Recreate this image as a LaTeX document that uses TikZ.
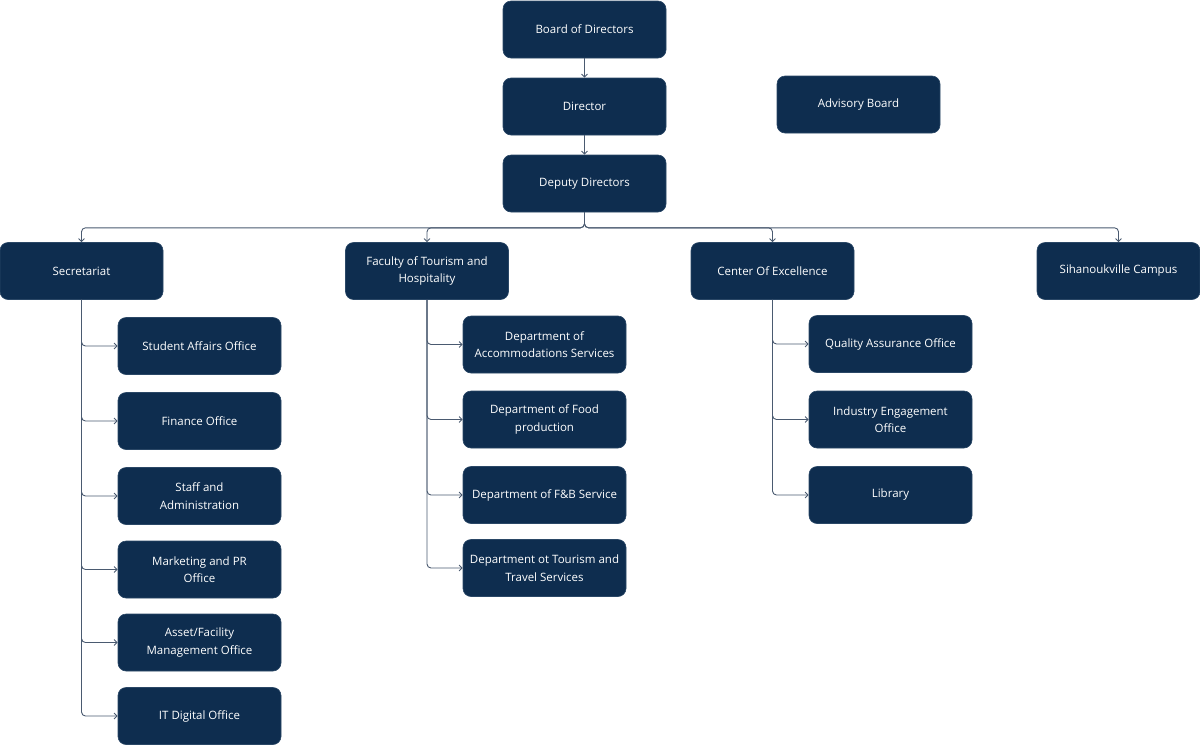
\documentclass[tikz,border=0pt]{standalone}
\usepackage{fontspec}
\setmainfont{Open Sans}
\usetikzlibrary{arrows.meta}
\definecolor{navy}{HTML}{0E2D4F}
\definecolor{navyedge}{HTML}{2A4766}
\definecolor{conn}{HTML}{4A5A70}
\tikzset{
  box/.style={draw=navyedge, line width=0.6pt, fill=navy, rounded corners=8pt,
    minimum width=163pt, minimum height=57pt, inner sep=2pt, align=center,
    text=white, font=\fontsize{11.5}{17.5}\selectfont},
  conn/.style={draw=conn, line width=0.9pt, rounded corners=4pt,
    -{Straight Barb[length=3pt,width=6pt]}},
}
\begin{document}
\begin{tikzpicture}[x=1pt,y=-1pt]
\useasboundingbox (0,0) rectangle (1200,745);
% top chain
\node[box] (bod) at (584.5,29.5) {Board of Directors};
\node[box] (dir) at (584.5,106.5) {Director};
\node[box] (dep) at (584.5,183.5) {Deputy Directors};
\node[box] (adv) at (858.5,104.5) {Advisory Board};
% second level
\node[box] (sec) at (81.5,271) {Secretariat};
\node[box] (fac) at (427,271) {Faculty of Tourism and\\Hospitality};
\node[box] (coe) at (772.5,271) {Center Of Excellence};
\node[box] (sih) at (1118.5,271) {Sihanoukville Campus};
% secretariat children
\node[box] (sa) at (199.5,346) {Student Affairs Office};
\node[box] (fin) at (199.5,421) {Finance Office};
\node[box] (staff) at (199.5,496) {Staff and\\Administration};
\node[box] (mkt) at (199.5,569.5) {Marketing and PR\\Office};
\node[box] (asset) at (199.5,642.5) {Asset/Facility\\Management Office};
\node[box] (it) at (199.5,716) {IT Digital Office};
% faculty children
\node[box] (acc) at (544.5,344.5) {Department of\\Accommodations Services};
\node[box] (food) at (544.5,419.5) {Department of Food\\production};
\node[box] (fb) at (544.5,495) {Department of F\&B Service};
\node[box] (tour) at (544.5,568) {Department ot Tourism and\\Travel Services};
% coe children
\node[box] (qa) at (890.5,344) {Quality Assurance Office};
\node[box] (ind) at (890.5,419.5) {Industry Engagement\\Office};
\node[box] (lib) at (890.5,495) {Library};
% connectors
\draw[conn] (bod) -- (dir);
\draw[conn] (dir) -- (dep);
\foreach \c in {sec,fac,coe,sih}
  \draw[conn] (dep.south) -- ++(0,15.5) -| (\c.north);
\foreach \c in {sa,fin,staff,mkt,asset,it}
  \draw[conn] (sec.south) |- (\c.west);
\foreach \c in {acc,food,fb,tour}
  \draw[conn] (fac.south) |- (\c.west);
\foreach \c in {qa,ind,lib}
  \draw[conn] (coe.south) |- (\c.west);
\end{tikzpicture}
\end{document}
